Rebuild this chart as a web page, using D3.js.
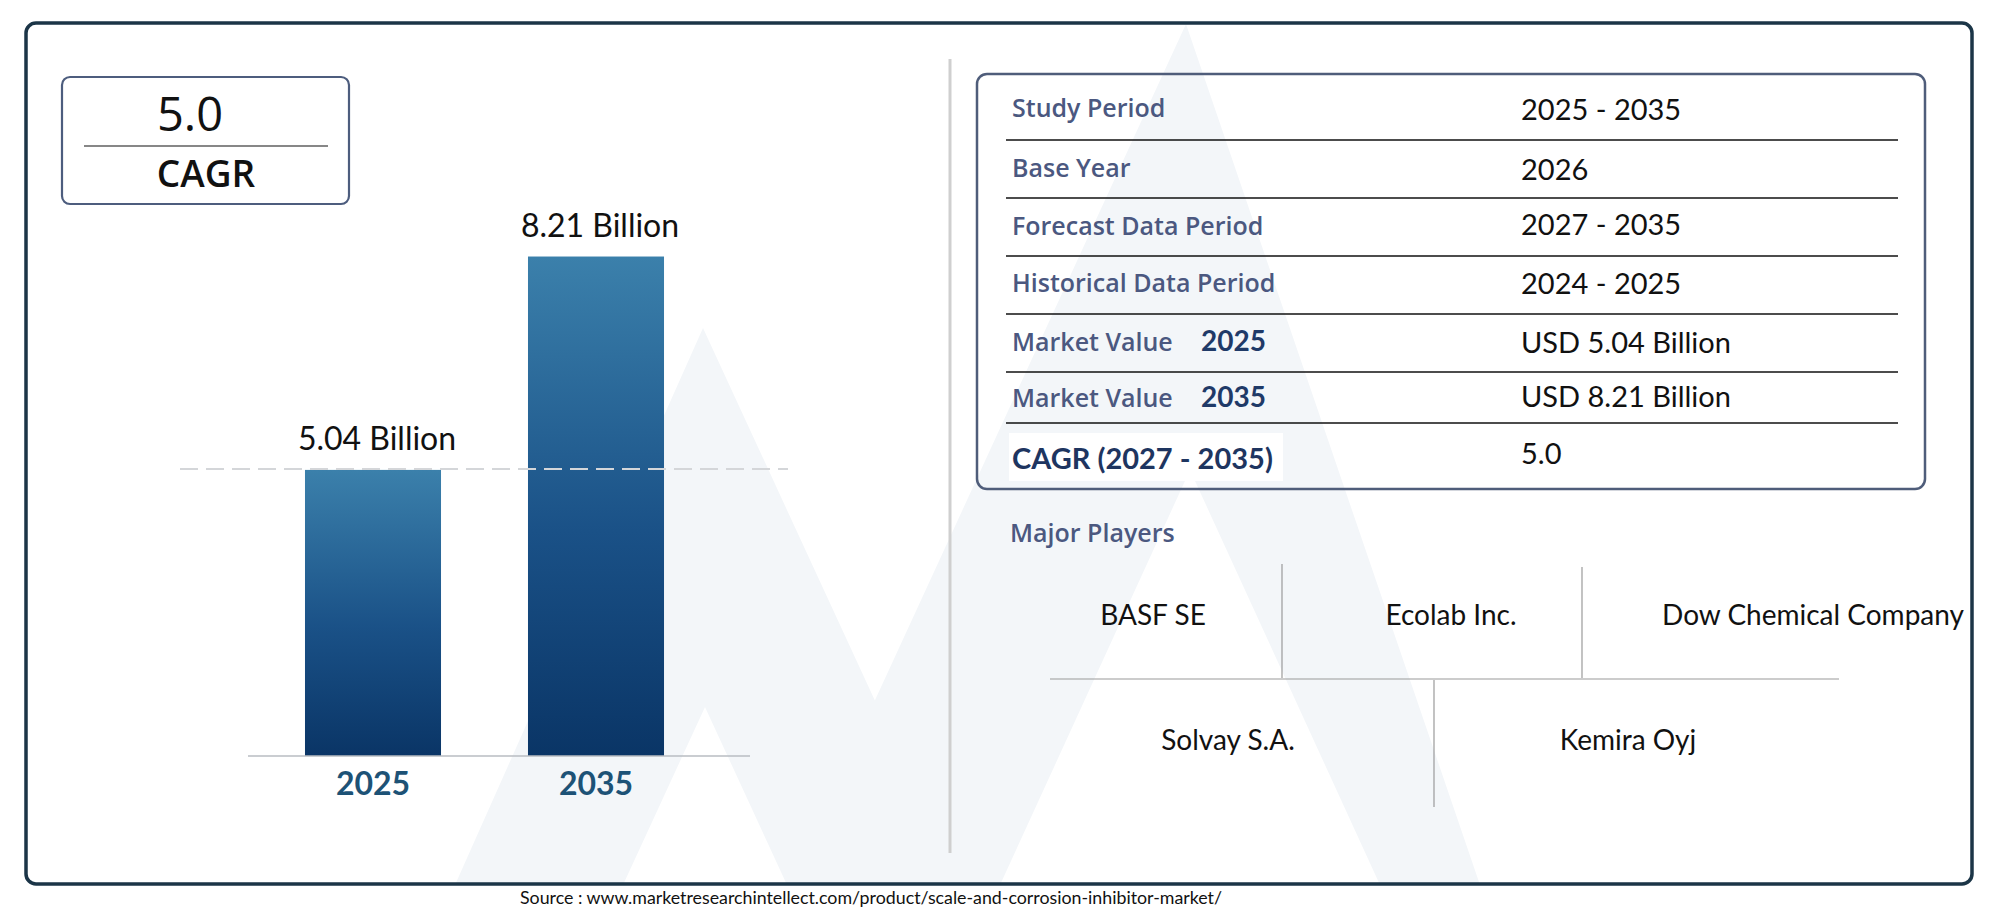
<!DOCTYPE html>
<html>
<head>
<meta charset="utf-8">
<script src="https://cdn.jsdelivr.net/npm/d3@7"></script>
<style>
  html, body { margin: 0; padding: 0; background: #fff; }
  svg { display: block; }
  .lab { font-family: "Open Sans", sans-serif; font-weight: 600; fill: #4b5880; }
  .val { font-family: Lato, sans-serif; fill: #111; }
</style>
</head>
<body>
<div id="chart"></div>
<script>
// chart values
var years = ["2025", "2035"];
var marketValues = [5.04, 8.21];
var valueLabels = ["5.04 Billion", "8.21 Billion"];
var cagr = "5.0";

// summary table
var rowLabels = ["Study Period", "Base Year", "Forecast Data Period", "Historical Data Period", "Market Value", "Market Value", "CAGR (2027 - 2035)"];
var rowYears = [null, null, null, null, "2025", "2035", null];
var rowValues = ["2025 - 2035", "2026", "2027 - 2035", "2024 - 2025", "USD 5.04 Billion", "USD 8.21 Billion", "5.0"];

var playersTop = ["BASF SE", "Ecolab Inc.", "Dow Chemical Company"];
var playersBottom = ["Solvay S.A.", "Kemira Oyj"];

var source = "Source : www.marketresearchintellect.com/product/scale-and-corrosion-inhibitor-market/";

var W = 2000, H = 917;
var svg = d3.select("#chart").append("svg").attr("width", W).attr("height", H);

// watermark logo (very faint)
var wm = svg.append("g").attr("fill", "#f3f6f9");
wm.append("path").attr("fill-rule", "evenodd")
  .attr("d", "M703,328 L455,885 L960,885 Z M705,707 L623,885 L787,885 Z");
wm.append("path").attr("fill-rule", "evenodd")
  .attr("d", "M1186,24 L790,885 L1480,885 Z M1190,470 L1000,885 L1380,885 Z");

// outer frame
svg.append("rect")
  .attr("x", 26).attr("y", 23).attr("width", 1946).attr("height", 861)
  .attr("rx", 10).attr("fill", "none")
  .attr("stroke", "#1b3547").attr("stroke-width", 3.5);

// CAGR box
svg.append("rect")
  .attr("x", 62).attr("y", 77).attr("width", 287).attr("height", 127)
  .attr("rx", 8).attr("fill", "#fff")
  .attr("stroke", "#4d5d7e").attr("stroke-width", 2.2);
svg.append("text").attr("x", 190).attr("y", 131)
  .attr("text-anchor", "middle")
  .style("font-family", "Open Sans, sans-serif").style("font-size", "47px").style("fill", "#111")
  .text(cagr);
svg.append("line").attr("x1", 84).attr("x2", 328).attr("y1", 146).attr("y2", 146)
  .attr("stroke", "#111").attr("stroke-width", 1.2);
svg.append("text").attr("x", 206).attr("y", 187)
  .attr("text-anchor", "middle")
  .style("font-family", "Open Sans, sans-serif").style("font-weight", 600)
  .style("font-size", "37px").style("fill", "#111")
  .text("CAGR");

// bar chart
var x = d3.scaleBand().domain(years).range([261.5, 707.5])
  .paddingInner(0.39).paddingOuter(0.195);
var y = d3.scaleLinear().domain([0.79, 8.5]).range([756, 237]);

var defs = svg.append("defs");
var grad = defs.append("linearGradient").attr("id", "barGrad")
  .attr("x1", 0).attr("x2", 0).attr("y1", 0).attr("y2", 1);
grad.append("stop").attr("offset", "0%").attr("stop-color", "#3b80ab");
grad.append("stop").attr("offset", "55%").attr("stop-color", "#1a5187");
grad.append("stop").attr("offset", "100%").attr("stop-color", "#0a3566");

var data = years.map(function (yr, i) { return { year: yr, value: marketValues[i], label: valueLabels[i] }; });

svg.selectAll("rect.bar").data(data).enter().append("rect")
  .attr("class", "bar")
  .attr("x", function (d) { return x(d.year); })
  .attr("y", function (d) { return y(d.value); })
  .attr("width", x.bandwidth())
  .attr("height", function (d) { return y.range()[0] - y(d.value); })
  .attr("fill", "url(#barGrad)");

// baseline
svg.append("line").attr("x1", 248).attr("x2", 750)
  .attr("y1", y.range()[0]).attr("y2", y.range()[0])
  .attr("stroke", "#b8bcc2").attr("stroke-width", 1.5);

// dashed reference at first value
svg.append("line").attr("x1", 180).attr("x2", 788)
  .attr("y1", y(marketValues[0]) - 1).attr("y2", y(marketValues[0]) - 1)
  .attr("stroke", "#d4d6d9").attr("stroke-width", 2)
  .attr("stroke-dasharray", "18,8");

svg.selectAll("text.vl").data(data).enter().append("text")
  .attr("class", "vl val")
  .attr("x", function (d) { return x(d.year) + x.bandwidth() / 2 + 4; })
  .attr("y", function (d) { return y(d.value) - 20; })
  .attr("text-anchor", "middle")
  .style("font-size", "32px")
  .text(function (d) { return d.label; });

var xAxis = svg.append("g").attr("transform", "translate(0," + y.range()[0] + ")")
  .call(d3.axisBottom(x).tickSize(0).tickPadding(16));
xAxis.select(".domain").remove();
xAxis.selectAll("text")
  .attr("dy", "0.71em")
  .style("font-family", "Lato, sans-serif").style("font-weight", 700)
  .style("font-size", "32px").style("fill", "#1d5276");

// separator
svg.append("line").attr("x1", 950).attr("x2", 950).attr("y1", 59).attr("y2", 853)
  .attr("stroke", "#cfcfcf").attr("stroke-width", 3);

// summary table
svg.append("rect")
  .attr("x", 977).attr("y", 74).attr("width", 948).attr("height", 415)
  .attr("rx", 10).attr("fill", "none")
  .attr("stroke", "#4f5d7a").attr("stroke-width", 2.5);

var labelY = [117, 177, 235, 292, 351, 407, 469];
var valueY = [120, 180, 235, 294, 353, 407, 464];
var lineY = [140, 198, 256, 314, 372, 423];

svg.selectAll("line.row").data(lineY).enter().append("line")
  .attr("class", "row")
  .attr("x1", 1006).attr("x2", 1898)
  .attr("y1", function (d) { return d; }).attr("y2", function (d) { return d; })
  .attr("stroke", "#111").attr("stroke-width", 1.5);

rowLabels.forEach(function (lab, i) {
  var last = i === rowLabels.length - 1;
  if (last) {
    svg.append("rect").attr("x", 1009).attr("y", 433).attr("width", 274).attr("height", 48).attr("fill", "#fff");
    svg.append("text").attr("x", 1012).attr("y", labelY[i])
      .style("font-family", "Lato, sans-serif").style("font-weight", 700)
      .style("font-size", "29px").style("fill", "#1e3560")
      .text(lab);
  } else {
    svg.append("text").attr("class", "lab").attr("x", 1012).attr("y", labelY[i])
      .style("font-size", "25px").text(lab);
  }
  if (rowYears[i]) {
    svg.append("text").attr("x", 1201).attr("y", labelY[i])
      .style("font-family", "Lato, sans-serif").style("font-weight", 700)
      .style("font-size", "28px").style("fill", "#1f3a68")
      .text(rowYears[i]);
  }
  svg.append("text").attr("class", "val").attr("x", 1521).attr("y", valueY[i])
    .style("font-size", "29px").text(rowValues[i]);
});

// major players
svg.append("text").attr("class", "lab").attr("x", 1010).attr("y", 542)
  .style("font-size", "25px").text("Major Players");

var topX = [1153, 1451, 1813];
var bottomX = [1228, 1628];
svg.selectAll("text.pt").data(playersTop).enter().append("text")
  .attr("class", "pt val")
  .attr("x", function (d, i) { return topX[i]; }).attr("y", 625)
  .attr("text-anchor", "middle").style("font-size", "28px")
  .text(function (d) { return d; });
svg.selectAll("text.pb").data(playersBottom).enter().append("text")
  .attr("class", "pb val")
  .attr("x", function (d, i) { return bottomX[i]; }).attr("y", 750)
  .attr("text-anchor", "middle").style("font-size", "28px")
  .text(function (d) { return d; });

var grid = svg.append("g").attr("stroke", "#9a9a9a").attr("stroke-width", 1.2);
grid.append("line").attr("x1", 1050).attr("x2", 1839).attr("y1", 679).attr("y2", 679);
grid.append("line").attr("x1", 1282).attr("x2", 1282).attr("y1", 564).attr("y2", 678);
grid.append("line").attr("x1", 1582).attr("x2", 1582).attr("y1", 567).attr("y2", 678);
grid.append("line").attr("x1", 1434).attr("x2", 1434).attr("y1", 680).attr("y2", 807);

// source
svg.append("text").attr("x", 520).attr("y", 904)
  .attr("textLength", 702).attr("lengthAdjust", "spacingAndGlyphs")
  .style("font-family", "Lato, sans-serif").style("font-size", "18px").style("fill", "#111")
  .text(source);
</script>
</body>
</html>
